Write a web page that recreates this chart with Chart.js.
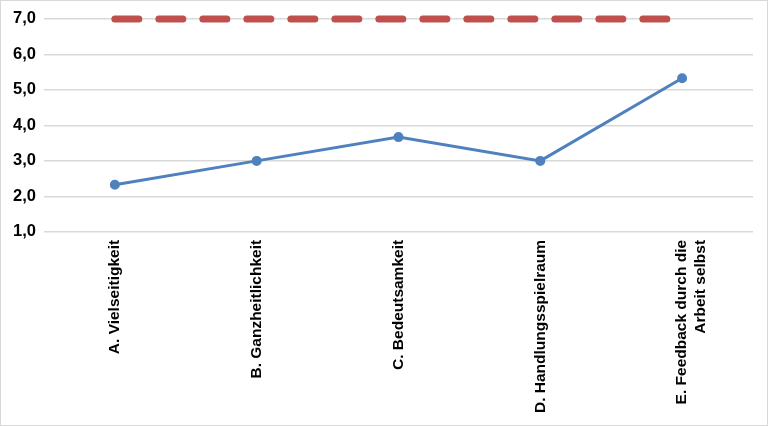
<!DOCTYPE html>
<html>
<head>
<meta charset="utf-8">
<script src="https://cdn.jsdelivr.net/npm/chart.js@4"></script>
<style>
	body { margin: 0; background: #fff; }
	#wrap { width: 766px; height: 424px; border: 1px solid #d9d9d9; }
</style>
</head>
<body>
<div id="wrap"><canvas id="chart"></canvas></div>
<script>
const categories = [
	"A. Vielseitigkeit",
	"B. Ganzheitlichkeit",
	"C. Bedeutsamkeit",
	"D. Handlungsspielraum",
	["E. Feedback durch die", "Arbeit selbst"],
];
const ist = [2.33, 3.0, 3.67, 3.0, 5.33];
const soll = [7, 7, 7, 7, 7];

const config = {
	type: "line",
	data: {
		labels: categories,
		datasets: [
			{
				label: "Soll",
				data: soll,
				borderColor: "#c0504d",
				borderWidth: 7,
				borderDash: [24, 20],
				borderCapStyle: "round",
				pointRadius: 0,
				clip: false,
			},
			{
				label: "Ist",
				data: ist,
				borderColor: "#4f81bd",
				backgroundColor: "#4f81bd",
				borderWidth: 3,
				pointRadius: 3.5,
				tension: 0,
			},
		],
	},
	options: {
		responsive: true,
		maintainAspectRatio: false,
		animation: false,
		layout: { padding: { top: 16, right: 14, left: 4, bottom: 12 } },
		plugins: { legend: { display: false }, tooltip: { enabled: false } },
		scales: {
			x: {
				offset: true,
				grid: { display: false },
				border: { display: false },
				ticks: {
					color: "#000",
					padding: 0,
					maxRotation: 90,
					minRotation: 90,
					font: { family: "Liberation Sans", size: 15.5, weight: "bold" },
				},
			},
			y: {
				min: 1,
				max: 7,
				grid: { color: "#d9d9d9", lineWidth: 1.5, drawTicks: false },
				border: { display: false },
				ticks: {
					stepSize: 1,
					padding: 8,
					color: "#000",
					font: { family: "Liberation Sans", size: 16.5, weight: "bold" },
					callback: (v) => v.toFixed(1).replace(".", ","),
				},
			},
		},
	},
};

new Chart(document.getElementById("chart"), config);
</script>
</body>
</html>
